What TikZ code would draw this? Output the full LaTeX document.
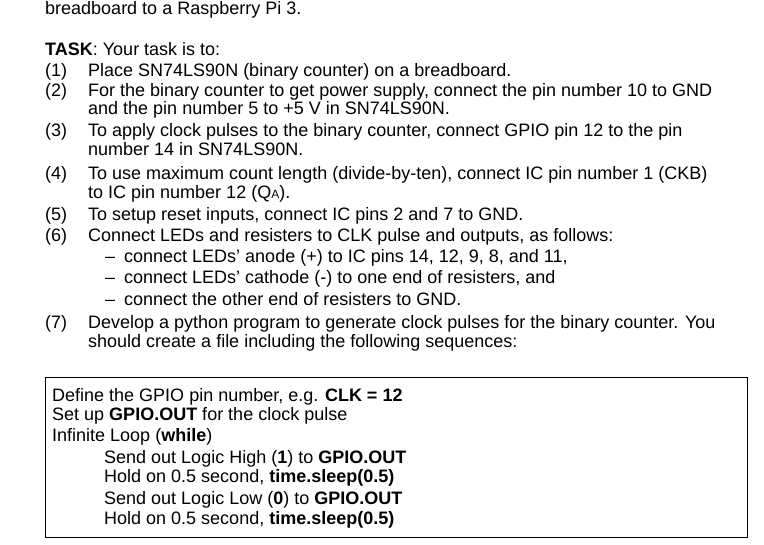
\documentclass[tikz,border=0pt]{standalone}
\usepackage{fontspec}
\setmainfont{Liberation Sans}
\begin{document}
\begin{tikzpicture}[x=1pt,y=-1pt,every node/.style={inner sep=0pt,anchor=base west,font=\fontsize{18}{20}\selectfont}]
\useasboundingbox (0,0) rectangle (764,545);
\def\L#1#2#3{\node (n#1) at (45,#2) {#3};}
\def\T#1#2#3{\node (t#1) at (88,#2) {#3};}
\node (top) at (45,15) {breadboard to a Raspberry Pi 3.};
\node (task) at (45,56) {\textbf{TASK}: Your task is to:};
\L{1}{77}{(1)} \T{1}{77}{Place SN74LS90N (binary counter) on a breadboard.}
\L{2}{97}{(2)} \T{2}{97}{For the binary counter to get power supply, connect the pin number 10 to GND}
\T{2b}{115}{and the pin number 5 to +5 V in SN74LS90N.}
\L{3}{137}{(3)} \T{3}{137}{To apply clock pulses to the binary counter, connect GPIO pin 12 to the pin}
\T{3b}{156}{number 14 in SN74LS90N.}
\L{4}{180}{(4)} \T{4}{180}{To use maximum count length (divide-by-ten), connect IC pin number 1 (CKB)}
\T{4b}{199}{to IC pin number 12 (Q{\fontsize{12}{13}\selectfont A}).}
\L{5}{221}{(5)} \T{5}{221}{To setup reset inputs, connect IC pins 2 and 7 to GND.}
\L{6}{242}{(6)} \T{6}{242}{Connect LEDs and resisters to CLK pulse and outputs, as follows:}
\node (d1) at (105,263) {--}; \node (e1) at (124,263) {connect LEDs’ anode (+) to IC pins 14, 12, 9, 8, and 11,};
\node (d2) at (105,284) {--}; \node (e2) at (124,284) {connect LEDs’ cathode (-) to one end of resisters, and};
\node (d3) at (105,306) {--}; \node (e3) at (124,306) {connect the other end of resisters to GND.};
\L{7}{329}{(7)} \T{7}{329}{Develop a python program to generate clock pulses for the binary counter. You}
\T{7b}{348}{should create a file including the following sequences:}
\draw[line width=0.8pt] (45,377) rectangle (747,537);
\node (b1) at (52,402) {Define the GPIO pin number, e.g. \textbf{CLK = 12}};
\node (b2) at (52,421) {Set up \textbf{GPIO.OUT} for the clock pulse};
\node (b3) at (52,442) {Infinite Loop (\textbf{while})};
\node (b4) at (104,464) {Send out Logic High (\textbf{1}) to \textbf{GPIO.OUT}};
\node (b5) at (104,483) {Hold on 0.5 second, \textbf{time.sleep(0.5)}};
\node (b6) at (104,504) {Send out Logic Low (\textbf{0}) to \textbf{GPIO.OUT}};
\node (b7) at (104,525) {Hold on 0.5 second, \textbf{time.sleep(0.5)}};
\end{tikzpicture}
\end{document}
